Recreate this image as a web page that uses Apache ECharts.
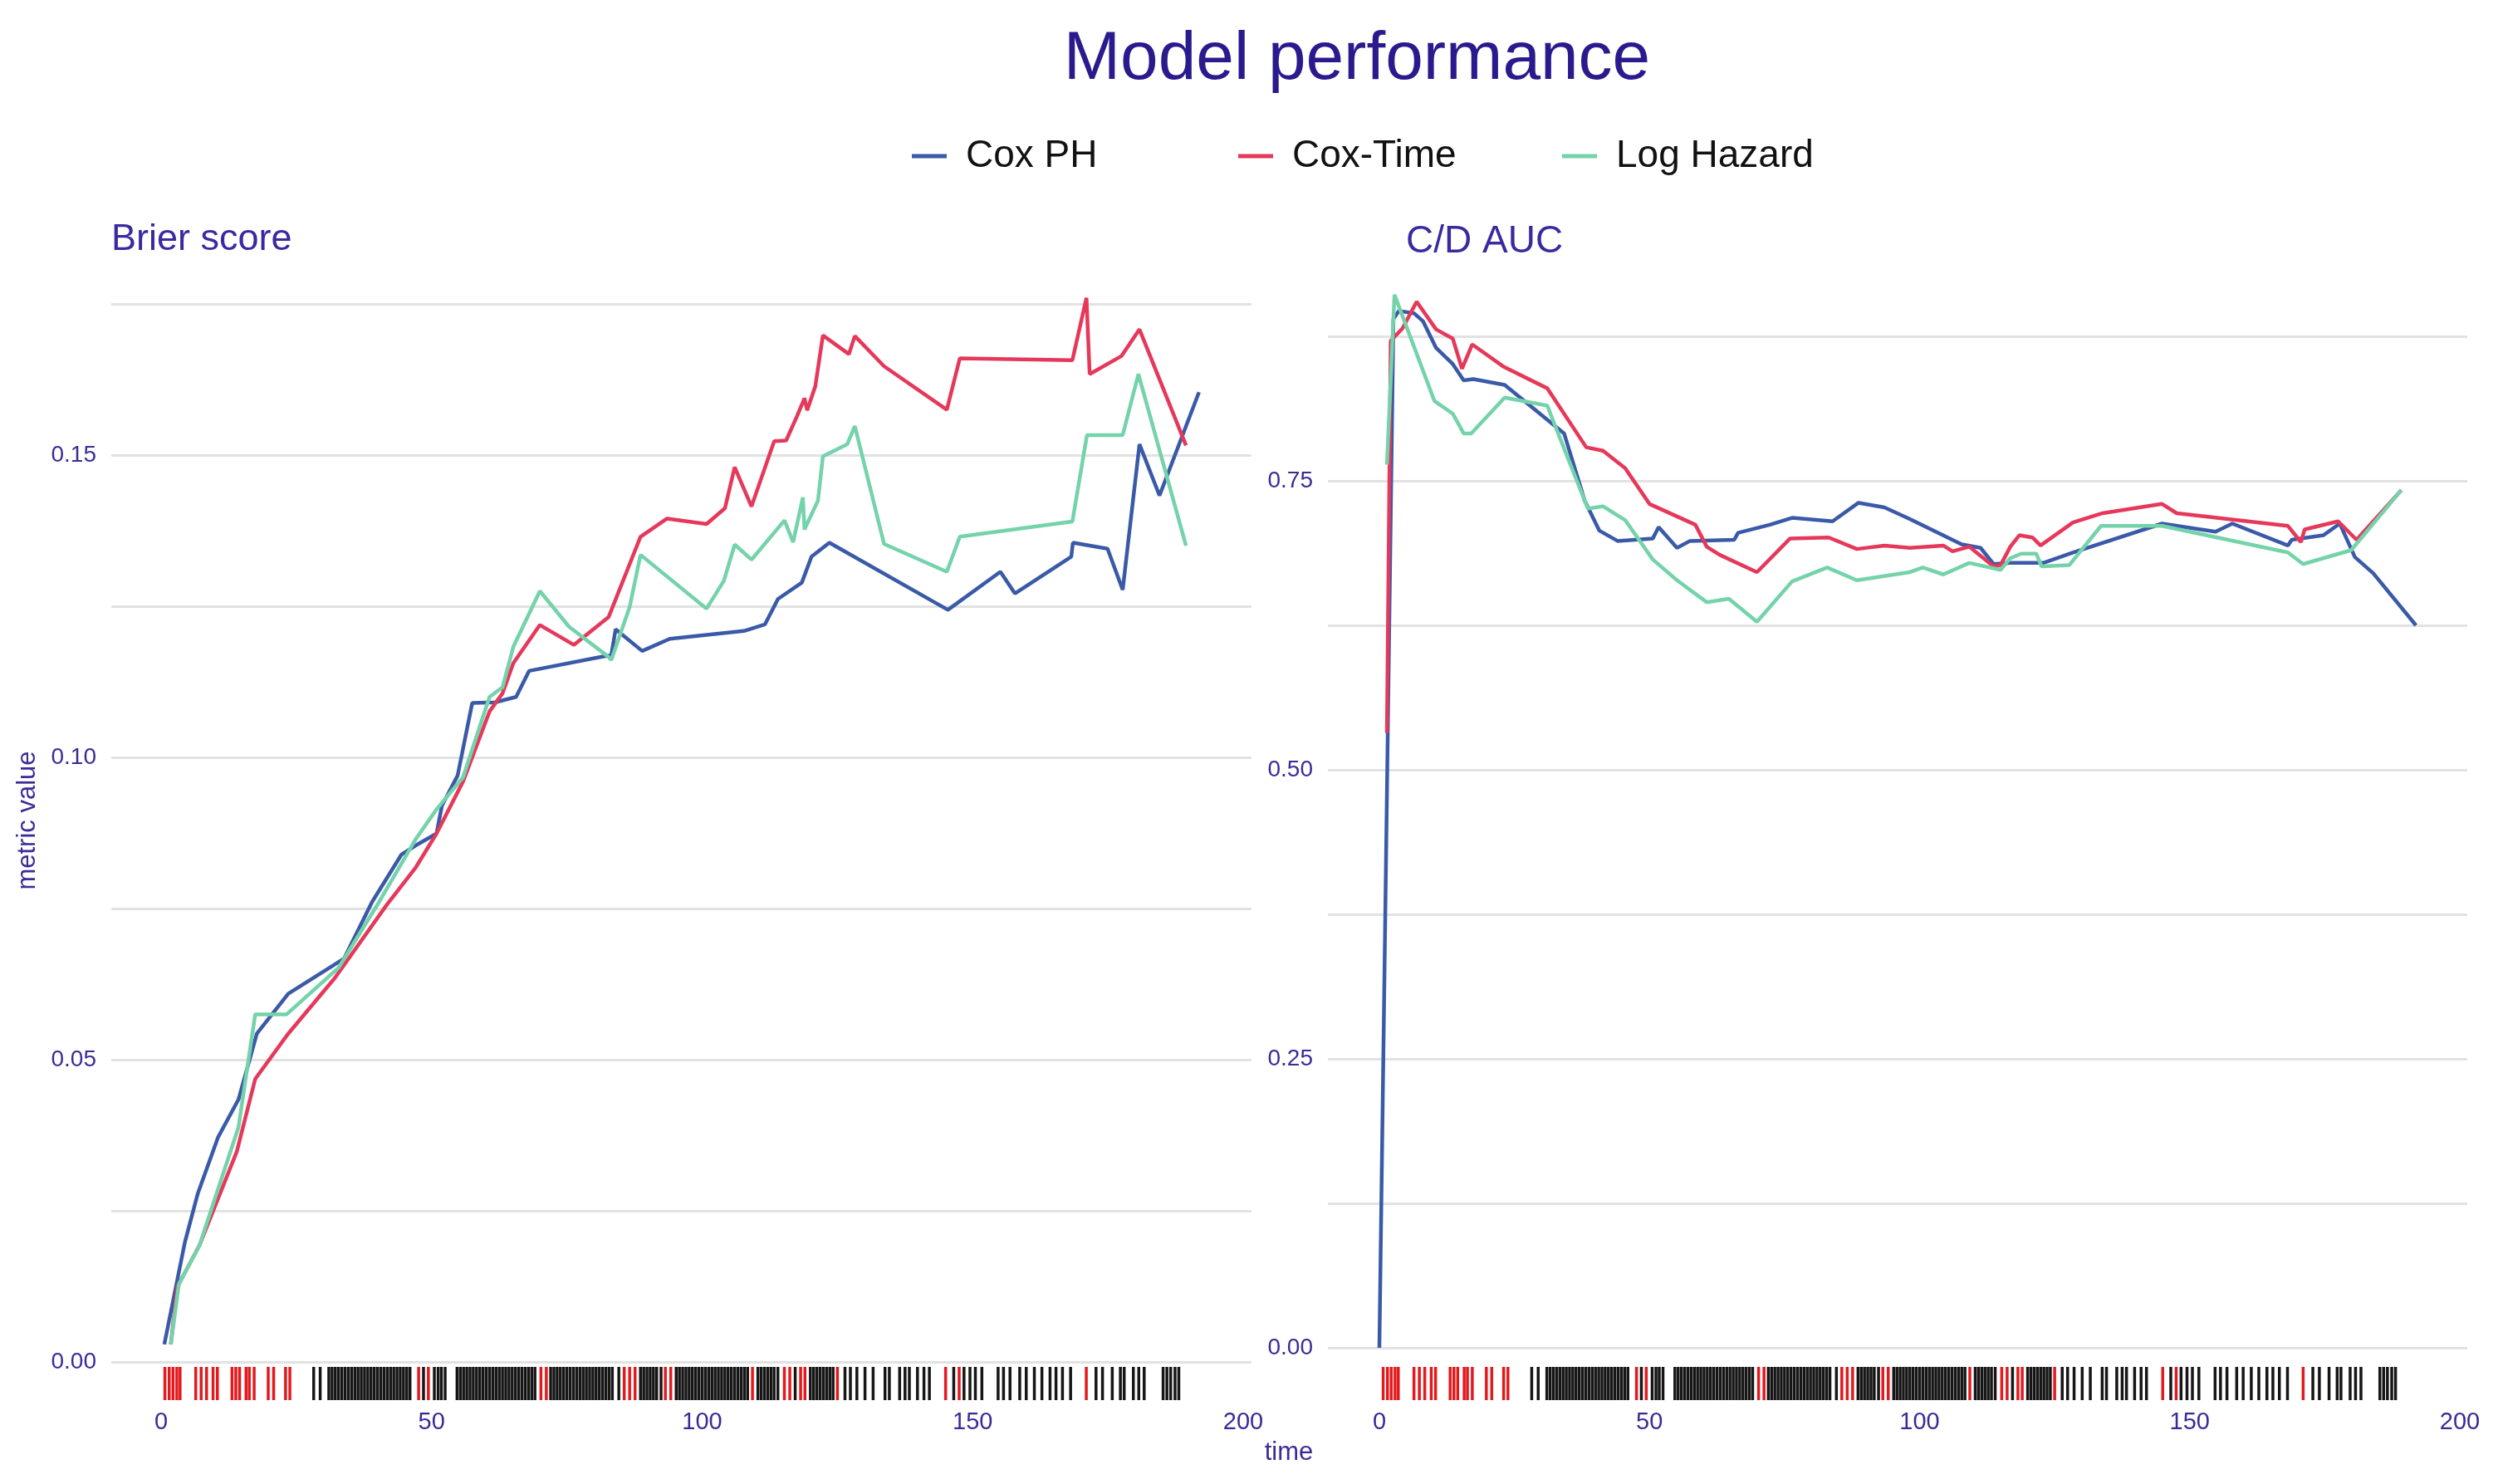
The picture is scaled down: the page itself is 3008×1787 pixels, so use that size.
<!DOCTYPE html>
<html>
<head>
<meta charset="utf-8">
<script src="https://cdn.jsdelivr.net/npm/echarts@6/dist/echarts.min.js"></script>
<style>
html,body{margin:0;padding:0;background:#fff;}
#c{width:3008px;height:1787px;}
</style>
</head>
<body>
<div id="c"></div>
<script>
// ---------- DATA ----------
const seriesNames = ['Cox PH', 'Cox-Time', 'Log Hazard'];
const seriesColors = ['#3a5aa8', '#e5385a', '#74d3aa'];

// Brier score panel
const brierCoxPH_t = [0.6, 4.4, 6.8, 10.5, 14.3, 17.7, 23.5, 33.8, 39, 44.4, 47, 50.9, 51.9, 54.8, 57.5, 61.7, 65.6, 68, 81.7, 83.2, 84, 88.9, 94, 107.7, 111.6, 114, 118.4, 120.2, 123.5, 145.4, 155.1, 157.8, 168.2, 168.5, 174.9, 177.7, 180.8, 184.5, 191.8];
const brierCoxPH_v = [0.0029, 0.0198, 0.0279, 0.0371, 0.0434, 0.0543, 0.0609, 0.0667, 0.0761, 0.0839, 0.0854, 0.0874, 0.092, 0.097, 0.109, 0.1091, 0.11, 0.1143, 0.1167, 0.1169, 0.1212, 0.1176, 0.1196, 0.1209, 0.122, 0.1262, 0.1289, 0.1332, 0.1355, 0.1244, 0.1307, 0.1271, 0.1332, 0.1355, 0.1345, 0.1277, 0.1518, 0.1433, 0.1604];

const brierCoxTime_t = [1.8, 3.0, 7.1, 14, 17.4, 23.5, 32.1, 41.7, 47, 50.9, 55.8, 60.7, 63.1, 65.1, 70, 76.3, 82.7, 88.6, 93.5, 100.8, 104.2, 106, 109.1, 113.3, 115.5, 117.5, 118.9, 119.4, 120.9, 122.3, 127.1, 128.2, 133.6, 145.2, 147.6, 168.4, 171, 171.6, 177.5, 180.8, 189.4];
const brierCoxTime_v = [0.0029, 0.0124, 0.0193, 0.0348, 0.0468, 0.0543, 0.0635, 0.0756, 0.0817, 0.0874, 0.096, 0.1076, 0.1106, 0.1156, 0.1219, 0.1186, 0.1232, 0.1365, 0.1395, 0.1386, 0.1412, 0.148, 0.1415, 0.1523, 0.1524, 0.1564, 0.1594, 0.1574, 0.1614, 0.1698, 0.1667, 0.1697, 0.1647, 0.1575, 0.166, 0.1657, 0.176, 0.1634, 0.1664, 0.1708, 0.1516];

const brierLogHaz_t = [1.8, 3.3, 7.1, 14.3, 17.4, 23.2, 32.8, 40.3, 47, 50.9, 55.8, 60.7, 63.1, 65.1, 70, 75.4, 82.7, 83.2, 86.6, 88.6, 100.8, 104, 106, 109.1, 115.2, 116.8, 118.6, 118.9, 121.4, 122.3, 126.8, 128.2, 133.6, 145.2, 147.6, 168.4, 171.1, 177.7, 180.6, 189.4];
const brierLogHaz_v = [0.0029, 0.0129, 0.0193, 0.0388, 0.0575, 0.0575, 0.0652, 0.0761, 0.0864, 0.0914, 0.0967, 0.11, 0.1116, 0.1183, 0.1275, 0.1216, 0.1166, 0.1161, 0.1249, 0.1335, 0.1246, 0.1292, 0.1352, 0.1327, 0.1392, 0.1356, 0.143, 0.1377, 0.1425, 0.1498, 0.1518, 0.1548, 0.1353, 0.1307, 0.1365, 0.139, 0.1533, 0.1533, 0.1634, 0.135];

// C/D AUC panel
const aucCoxPH_t = [0, 2.6, 3.6, 6.4, 8.1, 10.5, 13.6, 15.6, 17.4, 23.2, 34.2, 38, 40.7, 44.1, 50.6, 51.7, 55.1, 57.5, 65.7, 66.4, 72.3, 76.4, 83.9, 88.7, 93.5, 98.2, 107.8, 111.3, 113.7, 116.8, 122.9, 128.4, 144.9, 154.8, 157.9, 168.2, 168.9, 174.8, 177.8, 180.6, 184.0, 191.9];
const aucCoxPH_v = [0, 0.89, 0.897, 0.895, 0.888, 0.865, 0.851, 0.837, 0.838, 0.833, 0.791, 0.733, 0.707, 0.698, 0.700, 0.710, 0.692, 0.698, 0.699, 0.705, 0.712, 0.718, 0.715, 0.731, 0.727, 0.717, 0.695, 0.692, 0.678, 0.679, 0.679, 0.688, 0.713, 0.706, 0.713, 0.694, 0.699, 0.703, 0.713, 0.684, 0.670, 0.625];

const aucCoxTime_t = [1.4, 2.1, 4.3, 6.9, 10.5, 13.6, 15.3, 17.2, 22.9, 31.1, 38.3, 41.4, 45.5, 50, 58.5, 60.6, 63, 69.9, 76, 83.2, 88.4, 93.5, 98.2, 104.4, 106.1, 109.2, 113.7, 115.0, 116.8, 118.5, 120.9, 122.4, 128.4, 133.9, 144.9, 147.6, 168.2, 170.6, 171.3, 177.5, 180.9, 189.2];
const aucCoxTime_v = [0.532, 0.871, 0.882, 0.905, 0.881, 0.873, 0.847, 0.868, 0.849, 0.830, 0.779, 0.776, 0.761, 0.730, 0.712, 0.693, 0.686, 0.671, 0.700, 0.701, 0.691, 0.694, 0.692, 0.694, 0.689, 0.693, 0.676, 0.677, 0.693, 0.703, 0.701, 0.694, 0.714, 0.722, 0.730, 0.722, 0.711, 0.697, 0.708, 0.715, 0.699, 0.742];

const aucLogHaz_t = [1.4, 2.8, 10.2, 13.6, 15.6, 17, 23.2, 31.1, 32.5, 38.6, 41.4, 45.5, 50.6, 55.1, 60.6, 64.7, 69.9, 76.4, 82.9, 88.4, 98.2, 100.6, 104.4, 109.2, 115.0, 116.8, 118.8, 121.6, 122.6, 127.7, 133.6, 144.9, 168.2, 171.0, 179.9, 189.2];
const aucLogHaz_v = [0.764, 0.911, 0.819, 0.808, 0.791, 0.791, 0.822, 0.815, 0.798, 0.726, 0.728, 0.716, 0.682, 0.664, 0.645, 0.648, 0.628, 0.663, 0.675, 0.664, 0.671, 0.675, 0.669, 0.679, 0.673, 0.683, 0.687, 0.687, 0.676, 0.677, 0.711, 0.711, 0.688, 0.678, 0.690, 0.742];

// Rug (observed times): red and black ticks
const rugRed = [0.7, 1.5, 2.2, 2.9, 3.5, 6.4, 7.4, 8.4, 9.6, 10.4, 13.1, 13.8, 14.5, 15.7, 16.3, 17.2, 19.8, 20.8, 23.0, 23.8, 47.6, 49.4, 70.2, 71.2, 85.6, 86.6, 87.6, 93.2, 94.2, 109.3, 115.2, 116.2, 118.2, 119.0, 125.0, 145.0, 147.5, 171.0];
const rugBlack = [28.2, 29.4, 31, 31.6, 32.2, 32.8, 33.4, 34, 34.6, 35.2, 35.8, 36.4, 37, 37.6, 38.2, 38.8, 39.4, 40, 40.6, 41.2, 41.8, 42.4, 43, 43.6, 44.2, 44.8, 45.4, 46, 48.5, 50.5, 51.2, 51.8, 52.5, 54.7, 55.3, 55.9, 56.5, 57.1, 57.7, 58.3, 58.9, 59.5, 60.1, 60.7, 61.3, 61.9, 62.5, 63.1, 63.7, 64.3, 64.9, 65.5, 66.1, 66.7, 67.3, 67.9, 68.5, 69.1, 72.0, 72.6, 73.2, 73.8, 74.4, 75.0, 75.6, 76.2, 76.8, 77.4, 78.0, 78.6, 79.2, 79.8, 80.4, 81.0, 81.6, 82.2, 82.8, 83.4, 84.6, 88.6, 89.2, 89.8, 90.4, 91.0, 91.6, 92.4, 95.2, 95.8, 96.4, 97.0, 97.6, 98.2, 98.8, 99.4, 100.0, 100.6, 101.2, 101.8, 102.4, 103.0, 103.6, 104.2, 104.8, 105.4, 106.0, 106.6, 107.2, 107.8, 108.4, 110.3, 110.9, 111.5, 112.1, 112.7, 113.3, 114.0, 117.2, 120.0, 120.6, 121.2, 121.8, 122.4, 123.0, 123.6, 124.2, 126.4, 127.4, 128.6, 130.1, 131.6, 133.8, 134.6, 136.5, 137.5, 138.3, 139.8, 141.0, 142.0, 146.5, 148.4, 149.5, 150.5, 151.7, 154.7, 155.7, 156.9, 158.7, 159.9, 161.4, 162.8, 164.3, 165.4, 166.6, 168.1, 172.8, 174.0, 175.8, 177.3, 178.0, 179.7, 180.7, 181.7, 185.2, 185.9, 186.6, 187.4, 188.1];

const xTicks = [0, 50, 100, 150, 200];
const brierYTicks = [0, 0.05, 0.10, 0.15];
const aucYTicks = [0, 0.25, 0.50, 0.75];

// ---------- CHART ----------
const FONT = '"Liberation Sans", Arial, Helvetica, sans-serif';
const PURPLE = '#3a2c97';
const chart = echarts.init(document.getElementById('c'), null, {renderer: 'canvas'});

function pairs(t, v) { return t.map((x, i) => [x, v[i]]); }
function rugPts(arr) { return arr.map(x => [x, 0.5]); }

const lineSeries = (name, idx, xi, t, v) => ({
  type: 'line', name: name, xAxisIndex: xi, yAxisIndex: xi,
  data: pairs(t, v), showSymbol: false, symbol: 'none', clip: false,
  lineStyle: {color: seriesColors[idx], width: 4.5}, itemStyle: {color: seriesColors[idx]},
  z: 3 + idx, animation: false
});

const rugSeries = (xi, arr, color, z) => ({
  type: 'scatter', xAxisIndex: xi, yAxisIndex: xi, data: rugPts(arr),
  symbol: 'rect', symbolSize: [3.5, 40], itemStyle: {color: color, opacity: 1},
  silent: true, animation: false, z: z
});

const yLabelFmt = (ticks) => (val) => {
  for (const t of ticks) { if (Math.abs(val - t) < 1e-9) return t.toFixed(2); }
  return '';
};

const mainY = (max, interval, ticks) => ({
  type: 'value', min: 0, max: max, interval: interval,
  axisLine: {show: false}, axisTick: {show: false},
  axisLabel: {formatter: yLabelFmt(ticks), color: PURPLE, fontSize: 28, fontFamily: FONT, margin: 18},
  splitLine: {show: true, lineStyle: {color: '#e2e2e2', width: 3}}
});

const rugX = {
  type: 'value', min: xTicks[0], max: xTicks[xTicks.length - 1], interval: 50,
  axisLine: {show: false}, axisTick: {show: false}, splitLine: {show: false},
  axisLabel: {color: PURPLE, fontSize: 29, fontFamily: FONT, margin: 12, showMaxLabel: true, showMinLabel: true}
};
const rugY = {type: 'value', min: 0, max: 1, show: false};

const legendCommon = (name, left) => ({
  data: [name], left: left, top: 160, orient: 'horizontal',
  icon: 'rect', itemWidth: 42, itemHeight: 5,
  textStyle: {color: '#111', fontSize: 46, fontFamily: FONT, padding: [0, 0, 0, 18]},
  selectedMode: false
});

const option = {
  backgroundColor: '#ffffff',
  animation: false,
  textStyle: {fontFamily: FONT},
  legend: [
    legendCommon('Cox PH', 1093),
    legendCommon('Cox-Time', 1486),
    legendCommon('Log Hazard', 1876)
  ],
  grid: [
    {left: 134, top: 366, width: 1373, height: 1274},
    {left: 194, top: 1646, width: 1303, height: 40},
    {left: 1599, top: 405, width: 1372, height: 1218},
    {left: 1661, top: 1646, width: 1301, height: 40}
  ],
  xAxis: [
    {gridIndex: 0, type: 'value', min: -9.2, max: 201.5, show: false},
    Object.assign({gridIndex: 1}, rugX),
    {gridIndex: 2, type: 'value', min: -9.53, max: 201.4, show: false},
    Object.assign({gridIndex: 3}, rugX)
  ],
  yAxis: [
    Object.assign({gridIndex: 0}, mainY(0.175, 0.025, brierYTicks)),
    Object.assign({gridIndex: 1}, rugY),
    Object.assign({gridIndex: 2}, mainY(0.875, 0.125, aucYTicks)),
    Object.assign({gridIndex: 3}, rugY)
  ],
  series: [
    lineSeries('Cox PH', 0, 0, brierCoxPH_t, brierCoxPH_v),
    lineSeries('Cox-Time', 1, 0, brierCoxTime_t, brierCoxTime_v),
    lineSeries('Log Hazard', 2, 0, brierLogHaz_t, brierLogHaz_v),
    lineSeries('Cox PH', 0, 2, aucCoxPH_t, aucCoxPH_v),
    lineSeries('Cox-Time', 1, 2, aucCoxTime_t, aucCoxTime_v),
    lineSeries('Log Hazard', 2, 2, aucLogHaz_t, aucLogHaz_v),
    rugSeries(1, rugBlack, '#161616', 2),
    rugSeries(1, rugRed, '#e3191e', 3),
    rugSeries(3, rugBlack, '#161616', 2),
    rugSeries(3, rugRed, '#e3191e', 3)
  ],
  graphic: [
    {type: 'text', x: 1634, y: 72, style: {text: 'Model performance', fill: '#2a1a8e', font: '82px ' + FONT, textAlign: 'center', textVerticalAlign: 'middle'}},
    {type: 'text', x: 134, y: 289, style: {text: 'Brier score', fill: '#3a2aa0', font: '45px ' + FONT, textAlign: 'left', textVerticalAlign: 'middle'}},
    {type: 'text', x: 1693, y: 291, style: {text: 'C/D AUC', fill: '#3a2aa0', font: '46px ' + FONT, textAlign: 'left', textVerticalAlign: 'middle'}},
    {type: 'text', x: 33, y: 988, rotation: Math.PI / 2, style: {text: 'metric value', fill: PURPLE, font: '31px ' + FONT, textAlign: 'center', textVerticalAlign: 'middle'}},
    {type: 'text', x: 1552, y: 1749, style: {text: 'time', fill: PURPLE, font: '31px ' + FONT, textAlign: 'center', textVerticalAlign: 'middle'}}
  ]
};
chart.setOption(option);
</script>
</body>
</html>
